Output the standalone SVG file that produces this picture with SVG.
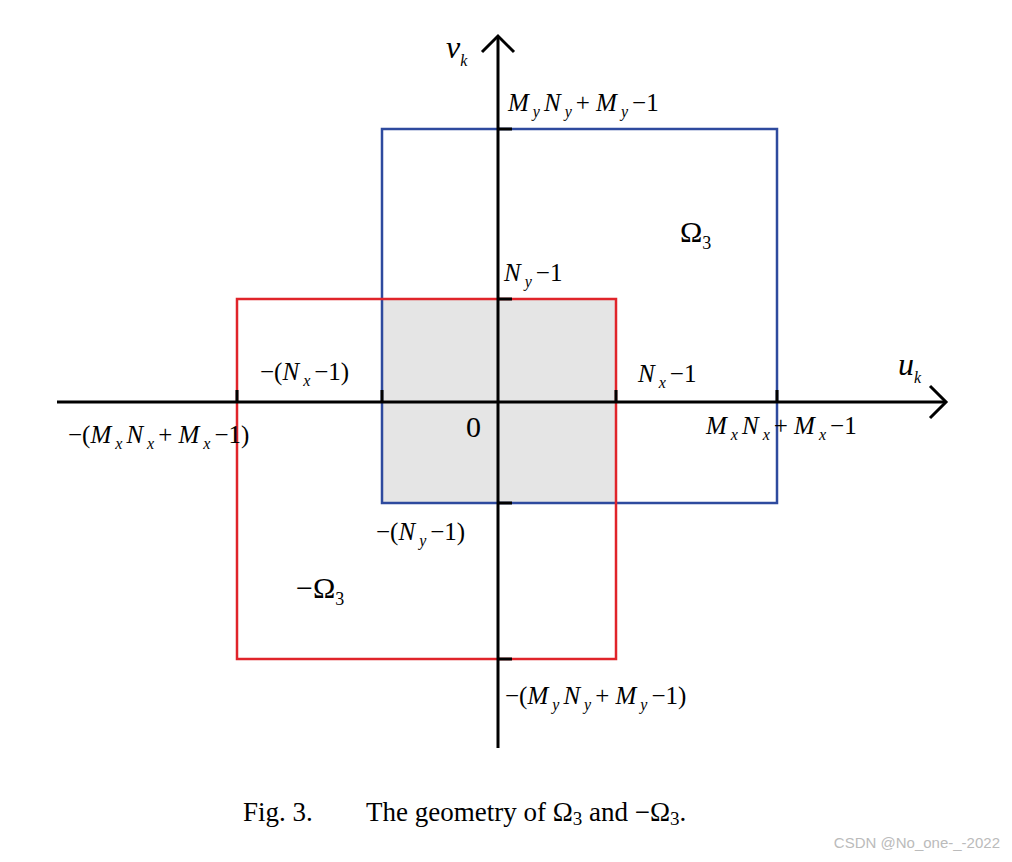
<svg xmlns="http://www.w3.org/2000/svg" width="1012" height="862" viewBox="0 0 1012 862">
<style>
text{font-family:"Liberation Serif",serif;fill:#000}
.i{font-style:italic}
.s{font-size:16px}
.ax{stroke:#000;stroke-width:3;fill:none}
.tk{stroke:#000;stroke-width:3}
</style>
<rect width="1012" height="862" fill="#fff"/>
<g id="overlap"><rect x="382" y="299" width="234" height="204" fill="#e5e5e5"/></g>
<g id="omega3"><rect x="382" y="129" width="395" height="374" fill="none" stroke="#2e4a9e" stroke-width="2.5"/></g>
<g id="negomega3"><rect x="237" y="299" width="379" height="360" fill="none" stroke="#e0242a" stroke-width="2.5"/></g>
<g id="axes">
<line class="ax" x1="57" y1="402" x2="946" y2="402"/>
<polyline class="ax" points="930,386 946,402 930,418"/>
<line class="ax" x1="498" y1="748" x2="498" y2="36"/>
<polyline class="ax" points="482,52 498,36 514,52"/>
<line class="tk" x1="498" y1="129" x2="512" y2="129"/>
<line class="tk" x1="498" y1="299" x2="512" y2="299"/>
<line class="tk" x1="498" y1="503" x2="512" y2="503"/>
<line class="tk" x1="498" y1="659" x2="512" y2="659"/>
<line class="tk" x1="237" y1="390" x2="237" y2="402"/>
<line class="tk" x1="382" y1="390" x2="382" y2="402"/>
<line class="tk" x1="616" y1="390" x2="616" y2="402"/>
<line class="tk" x1="777" y1="390" x2="777" y2="402"/>
</g>
<g id="labels" font-size="25" xml:space="preserve">
<text x="446" y="58" class="i" font-size="32">v<tspan class="s" dy="8">k</tspan></text>
<text x="898" y="375" class="i" font-size="32">u<tspan class="s" dy="8">k</tspan></text>
<text x="508" y="111"><tspan class="i">M</tspan><tspan class="i s" dy="6"> y </tspan><tspan class="i" dy="-6">N</tspan><tspan class="i s" dy="6"> y </tspan><tspan dy="-6">+ </tspan><tspan class="i">M</tspan><tspan class="i s" dy="6"> y </tspan><tspan dy="-6"> −1</tspan></text>
<text x="680" y="242" font-size="30">Ω<tspan font-size="18" dy="7">3</tspan></text>
<text x="504" y="281"><tspan class="i">N</tspan><tspan class="i s" dy="6"> y </tspan><tspan dy="-6"> −1</tspan></text>
<text x="260" y="380">−(<tspan class="i">N</tspan><tspan class="i s" dy="6"> x </tspan><tspan dy="-6"> −1)</tspan></text>
<text x="638" y="382"><tspan class="i">N</tspan><tspan class="i s" dy="6"> x </tspan><tspan dy="-6"> −1</tspan></text>
<text x="68" y="443">−(<tspan class="i">M</tspan><tspan class="i s" dy="6"> x </tspan><tspan class="i" dy="-6">N</tspan><tspan class="i s" dy="6"> x </tspan><tspan dy="-6">+ </tspan><tspan class="i">M</tspan><tspan class="i s" dy="6"> x </tspan><tspan dy="-6"> −1)</tspan></text>
<text x="466" y="437" font-size="30">0</text>
<text x="706" y="434"><tspan class="i">M</tspan><tspan class="i s" dy="6"> x </tspan><tspan class="i" dy="-6">N</tspan><tspan class="i s" dy="6"> x </tspan><tspan dy="-6">+ </tspan><tspan class="i">M</tspan><tspan class="i s" dy="6"> x </tspan><tspan dy="-6"> −1</tspan></text>
<text x="376" y="540">−(<tspan class="i">N</tspan><tspan class="i s" dy="6"> y </tspan><tspan dy="-6"> −1)</tspan></text>
<text x="296" y="598" font-size="30">−Ω<tspan font-size="18" dy="7">3</tspan></text>
<text x="505" y="704">−(<tspan class="i">M</tspan><tspan class="i s" dy="6"> y </tspan><tspan class="i" dy="-6">N</tspan><tspan class="i s" dy="6"> y </tspan><tspan dy="-6">+ </tspan><tspan class="i">M</tspan><tspan class="i s" dy="6"> y </tspan><tspan dy="-6"> −1)</tspan></text>
</g>
<g id="caption" font-size="27">
<text x="243" y="821">Fig. 3.</text>
<text x="366" y="821">The geometry of Ω<tspan font-size="19" dy="4">3</tspan><tspan dy="-4"> and −Ω</tspan><tspan font-size="19" dy="4">3</tspan><tspan dy="-4">.</tspan></text>
</g>
<text x="1000" y="848" style="fill:#bbb;font-family:'Liberation Sans',sans-serif" font-size="15" text-anchor="end">CSDN @No_one-_-2022</text>
</svg>
